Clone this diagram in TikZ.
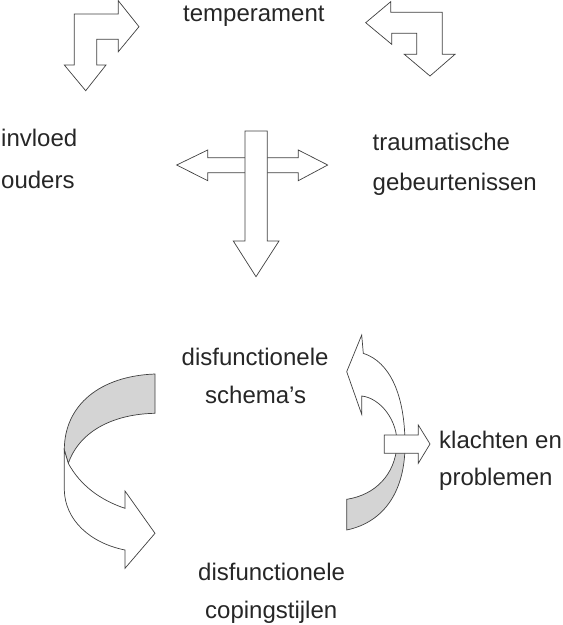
\documentclass[tikz,border=0pt]{standalone}
\usepackage{fontspec}
\setmainfont{Liberation Sans}

\tikzstyle{txt}=[inner sep=0pt, anchor=base west, font=\fontsize{24}{28}\selectfont, text=black!85]
\tikzstyle{blockarrow}=[draw=black!75, line width=0.7pt, fill=white, line join=miter]
\tikzstyle{backside}=[blockarrow, fill=black!17]

\begin{document}
\begin{tikzpicture}[x=1pt,y=-1pt]
\useasboundingbox (0,0) rectangle (563,625);

% labels
\node[txt] (temperament) at (183,21.7) {temperament};
\node[txt] (invloed) at (1,146.7) {invloed};
\node[txt] (ouders) at (1,188.3) {ouders};
\node[txt] (trauma) at (372.5,150) {traumatische};
\node[txt] (gebeurt) at (372.5,190) {gebeurtenissen};
\node[txt] (disschema) at (181.5,365) {disfunctionele};
\node[txt] (schemas) at (205,403.3) {schema's};
\node[txt] (klachten) at (439,448.3) {klachten en};
\node[txt] (problemen) at (439,485) {problemen};
\node[txt] (discoping) at (198,580) {disfunctionele};
\node[txt] (coping) at (205,618.3) {copingstijlen};

% top left bent arrow
\draw[blockarrow] (74.3,14) -- (118.3,14) -- (118.3,0.7) -- (139,26.7) -- (118.3,51.7)
  -- (118.3,39.3) -- (96.7,39.3) -- (96.7,65) -- (106,65) -- (85.7,90.7)
  -- (64.3,65) -- (74.3,65) -- cycle;

% top right bent arrow
\draw[blockarrow] (365.7,22.7) -- (390.7,1.7) -- (390.7,12.3) -- (442.3,12.3) -- (442.3,54.3)
  -- (455,54.3) -- (430,76) -- (404.3,54.3) -- (416.7,54.3) -- (416.7,33.3)
  -- (391.7,33.3) -- (391.7,44.3) -- cycle;

% centre cross
\draw[blockarrow] (176.7,165) -- (207.7,150) -- (207.7,157.7) -- (298.3,157.7) -- (298.3,150)
  -- (327.7,165) -- (298.3,180.7) -- (298.3,172.7) -- (207.7,172.7) -- (207.7,180.7) -- cycle;
\draw[blockarrow] (245,131) -- (267.3,131) -- (267.3,241) -- (279,241) -- (256,276.7)
  -- (233.3,241) -- (245,241) -- cycle;

% bottom left turning arrow
\draw[backside] (155,374) .. controls (100,376) and (64.3,405) .. (64.3,450) -- (68.3,463.3)
  .. controls (80,430) and (115,414) .. (155,413.3) -- cycle;
\draw[blockarrow] (64.3,450) -- (64.3,490) .. controls (65,520) and (90,543) .. (125,550)
  -- (125,568.3) -- (155,533.3) -- (125,491) -- (125,508.3)
  .. controls (100,500) and (80,485) .. (68.3,463.3) -- cycle;

% bottom right turning arrow
\draw[blockarrow] (346.7,371.7) -- (361.7,335) -- (363.3,353.3)
  .. controls (390,362) and (405,395) .. (405,445) -- (397,445)
  .. controls (398,420) and (380,398) .. (361.7,396) -- (361.7,414.3) -- cycle;
\draw[backside] (397,445) .. controls (395,475) and (375,495) .. (346.7,499.3) -- (346.7,530)
  .. controls (385,522) and (405,490) .. (405,445) -- cycle;
\draw[blockarrow] (384.3,435) -- (418.3,435) -- (418.3,425) -- (430,444) -- (418.3,463.3)
  -- (418.3,453.3) -- (384.3,453.3) -- cycle;
\end{tikzpicture}
\end{document}
